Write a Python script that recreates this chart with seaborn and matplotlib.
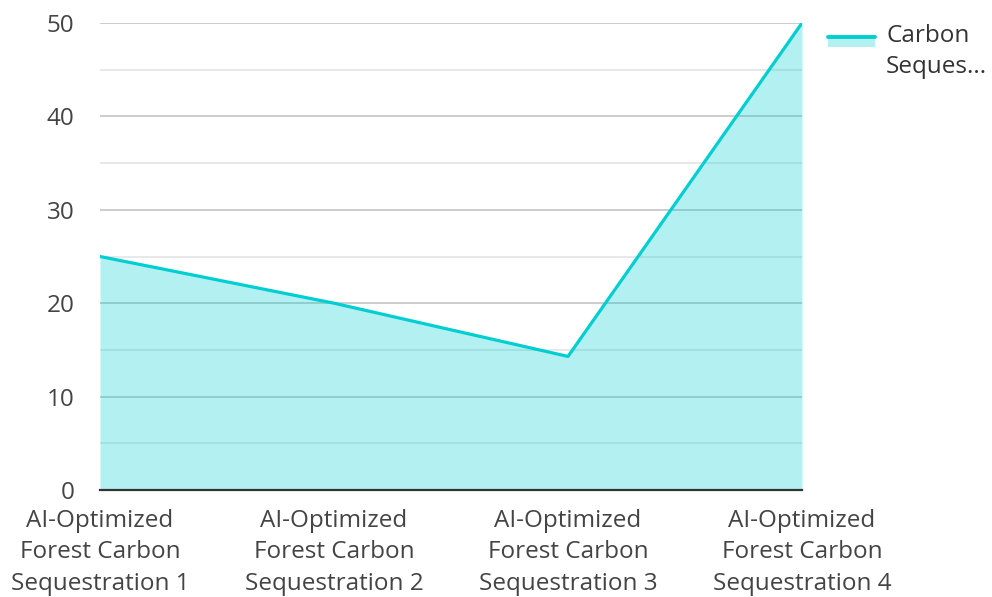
import matplotlib
matplotlib.use("Agg")
import matplotlib.pyplot as plt
from matplotlib.legend_handler import HandlerBase
from matplotlib.lines import Line2D
from matplotlib.patches import Rectangle
import seaborn as sns
import pandas as pd

categories = [
    "AI-Optimized\nForest Carbon\nSequestration 1",
    "AI-Optimized\nForest Carbon\nSequestration 2",
    "AI-Optimized\nForest Carbon\nSequestration 3",
    "AI-Optimized\nForest Carbon\nSequestration 4",
]
values = [25, 20, 14.3, 50]
series_name = "Carbon Sequestration"
legend_label = "Carbon\nSeques..."
y_ticks = [0, 10, 20, 30, 40, 50]

LINE = "#00CED1"
TEXT = "#444444"
FS = 17.5
LSP = 1.43

sns.set_theme(style="white")
plt.rcParams["font.family"] = ["Open Sans", "DejaVu Sans"]

df = pd.DataFrame({"cat": categories, "x": range(len(categories)), "value": values})

fig = plt.figure(figsize=(9.92, 5.97), dpi=100)
ax = fig.add_axes([100 / 992, 1 - 490 / 597, 702 / 992, 467 / 597])

ax.fill_between(df["x"], df["value"], 0, color=LINE, alpha=0.3, linewidth=0, zorder=3)
sns.lineplot(data=df, x="x", y="value", ax=ax, color=LINE, linewidth=2.3,
             zorder=4, legend=False)

ax.set_xlim(0, len(categories) - 1)
ax.set_ylim(0, 50)
ax.set_yticks(y_ticks)
ax.set_yticks([5, 15, 25, 35, 45], minor=True)
ax.set_xticks(df["x"])
ax.set_xticklabels(categories, linespacing=LSP)
ax.grid(axis="y", which="major", color="#c8c8c8", linewidth=1.3, zorder=1)
ax.grid(axis="y", which="minor", color="#e6e6e6", linewidth=1.3, zorder=1)
ax.set_axisbelow(True)
for side in ["top", "right", "left"]:
    ax.spines[side].set_visible(False)
ax.spines["bottom"].set_color("#333333")
ax.spines["bottom"].set_linewidth(1.6)
ax.spines["bottom"].set_zorder(5)
ax.tick_params(axis="both", which="both", length=0, labelsize=FS, colors=TEXT)
ax.tick_params(axis="y", pad=18.5)
ax.tick_params(axis="x", pad=13.5)
ax.set_xlabel("")
ax.set_ylabel("")


class AreaHandler(HandlerBase):
    def create_artists(self, legend, orig_handle, xdescent, ydescent,
                       width, height, fontsize, trans):
        top = height * 1.08
        rect = Rectangle((-xdescent, top - height * 0.46), width, height * 0.46,
                         facecolor=LINE, alpha=0.3, edgecolor="none", transform=trans)
        line = Line2D([-xdescent, -xdescent + width], [top, top],
                      color=LINE, linewidth=2.8, transform=trans)
        return [rect, line]


handle = Rectangle((0, 0), 1, 1)
leg = fig.legend([handle], [legend_label], handler_map={Rectangle: AreaHandler()},
                 loc="upper left", bbox_to_anchor=(818 / 992, 1 - 14 / 597),
                 frameon=False, fontsize=FS, handlelength=1.95, handleheight=1.0,
                 handletextpad=0.45, borderaxespad=0)
for t in leg.get_texts():
    t.set_color("#333333")
    t.set_linespacing(LSP)

fig.savefig("out.png", dpi=100)
